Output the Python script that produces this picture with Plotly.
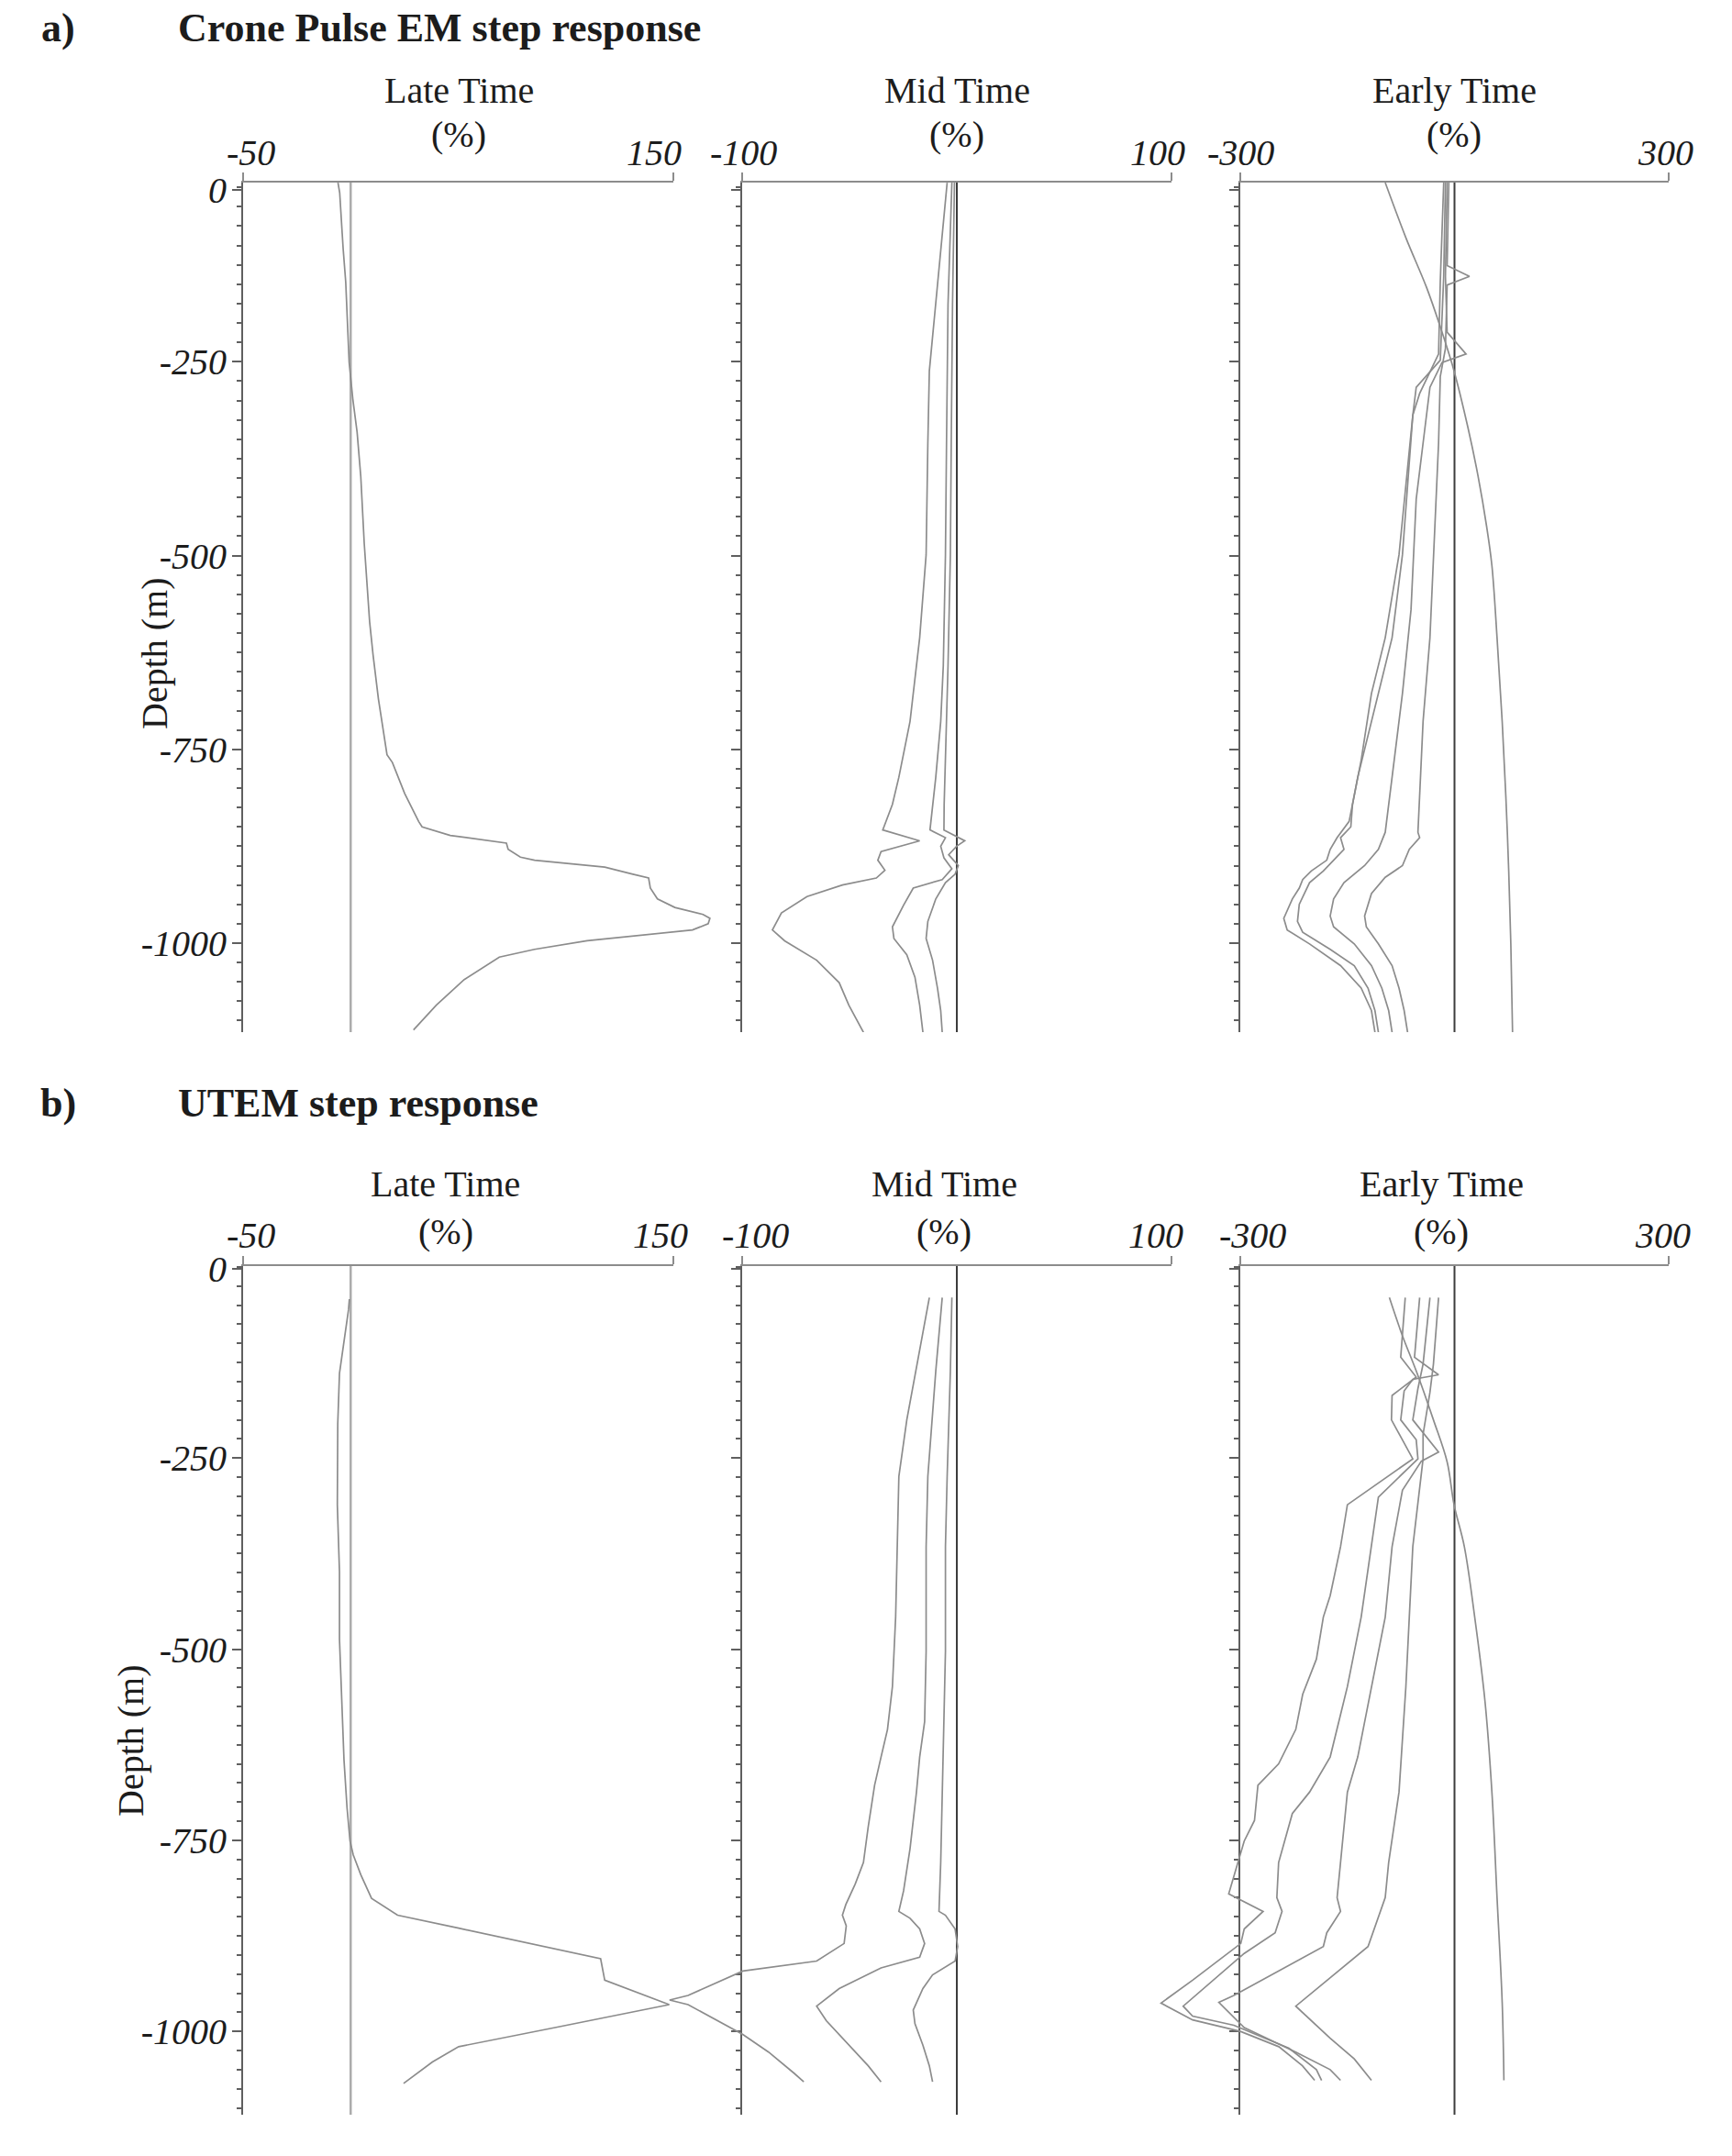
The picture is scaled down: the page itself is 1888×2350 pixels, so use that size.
import plotly.graph_objects as go

W, H = 1888, 2350

# ---------------- data: depth (m) / response (%) ----------------
# (a) Crone Pulse EM
LATE_A_DEPTH = [-19, -32, -104, -147, -212, -251, -298, -341, -398, -484, -585, -628, -685, -757, -767,
                -807, -843, -850, -861, -868, -871, -879, -889, -893, -902, -911, -916, -929, -943, -954,
                -963, -968, -975, -983, -990, -997, -1008, -1018, -1047, -1080, -1112]
LATE_A_VAL = [-5.9, -5.1, -3.5, -2.3, -1.3, -0.7, 1.0, 3.0, 4.7, 6.3, 8.8, 10.4, 12.9, 16.9, 19.4,
              25.1, 31.6, 33.2, 46.3, 65.9, 72.4, 73.2, 78.9, 85.5, 118.1, 131.2, 138.5, 139.3, 142.6, 150.7,
              163.8, 167.0, 166.2, 158.9, 134.4, 109.9, 85.5, 69.1, 52.8, 39.8, 29.2]

MID_A1_DEPTH = [-19, -176, -262, -355, -499, -606, -714, -786, -821, -854, -868, -882, -893, -906, -916,
                -925, -940, -961, -983, -997, -1022, -1051, -1080, -1115]
MID_A1_VAL = [-4.5, -9.8, -12.8, -13.5, -14.3, -17.3, -21.8, -27.0, -30.0, -34.5, -17.3, -35.3, -36.8, -33.5, -37.5,
              -53.3, -69.8, -81.7, -85.9, -80.2, -65.3, -54.8, -50.3, -43.5]
MID_A2_DEPTH = [-19, -176, -355, -499, -642, -714, -786, -821, -854, -864, -875, -890, -904, -918, -929,
                -951, -979, -994, -1015, -1044, -1080, -1115]
MID_A2_VAL = [-2.3, -4.1, -4.8, -5.3, -6.3, -7.5, -9.8, -11.3, -12.5, -5.3, -7.5, -6.0, -2.3, -6.8, -20.3,
              -24.8, -30.0, -29.3, -23.3, -19.5, -17.3, -15.8]
MID_A3_DEPTH = [-19, -176, -355, -499, -642, -750, -821, -854, -868, -875, -886, -900, -911, -922, -943,
                -972, -994, -1022, -1058, -1087, -1115]
MID_A3_VAL = [-1.1, -2.0, -2.6, -3.0, -4.1, -5.3, -5.9, -6.0, 3.7, -0.1, -3.8, 0.7, -0.8, -5.3, -9.8,
              -13.5, -14.3, -11.3, -9.0, -7.5, -6.8]

EARLY_A_S_DEPTH = [-19, -90, -154, -205, -262, -334, -398, -463, -513, -606, -714, -857, -1001, -1115]
EARLY_A_S_VAL = [-97.0, -68.1, -39.2, -19.9, -0.6, 18.6, 33.1, 45.1, 52.4, 59.6, 66.8, 74.0, 78.9, 81.3]
EARLY_A1_DEPTH = [-19, -147, -240, -291, -319, -499, -606, -678, -764, -807, -843, -864, -879, -893, -907,
                  -918, -929, -943, -968, -983, -1001, -1029, -1058, -1087, -1115]
EARLY_A1_VAL = [-15.1, -19.9, -22.3, -48.8, -58.4, -77.7, -97.0, -116.3, -130.7, -140.4, -147.6, -164.4, -174.1, -178.9, -200.6,
                -212.6, -217.4, -227.1, -239.1, -234.3, -203.0, -159.6, -130.7, -116.3, -111.4]
EARLY_A2_DEPTH = [-19, -140, -248, -283, -319, -499, -606, -678, -750, -786, -821, -850, -864, -879, -893,
                  -907, -922, -950, -972, -986, -1008, -1029, -1058, -1087, -1115]
EARLY_A2_VAL = [-12.7, -15.1, -19.9, -53.6, -58.4, -72.9, -87.4, -106.6, -125.9, -135.5, -142.8, -145.2, -159.6, -154.8, -169.3,
                -183.7, -203.0, -217.4, -219.9, -212.6, -174.1, -140.4, -121.1, -111.4, -106.6]
EARLY_A3_DEPTH = [-19, -140, -212, -240, -251, -283, -355, -427, -570, -678, -786, -857, -879, -890, -900,
                  -922, -943, -965, -979, -1001, -1029, -1058, -1087, -1115]
EARLY_A3_VAL = [-10.3, -12.7, -10.3, 16.2, -17.5, -34.4, -44.0, -53.6, -60.9, -72.9, -87.4, -97.0, -106.6, -116.3, -125.9,
                -154.8, -169.3, -174.1, -169.3, -140.4, -116.3, -101.8, -92.2, -87.4]
EARLY_A4_DEPTH = [-19, -126, -140, -151, -233, -269, -355, -499, -606, -714, -821, -857, -864, -879, -900,
                  -915, -936, -965, -979, -1001, -1029, -1058, -1087, -1115]
EARLY_A4_VAL = [-7.9, -10.3, 21.0, -10.3, -12.7, -19.9, -22.3, -29.5, -34.4, -44.0, -48.8, -51.2, -48.8, -63.3, -72.9,
                -97.0, -116.3, -125.9, -123.5, -106.6, -87.4, -77.7, -70.5, -65.7]

# (b) UTEM
LATE_B_DEPTH = [-42, -56, -139, -205, -311, -399, -487, -575, -645, -707, -751, -769, -795, -826, -848,
                -865, -905, -933, -965, -995, -1020, -1040, -1068]
LATE_B_VAL = [-0.6, -1.0, -5.2, -6.0, -6.2, -5.2, -5.2, -4.1, -3.1, -1.7, -0.3, 1.2, 4.7, 9.7, 21.8,
              50.2, 116.2, 118.1, 148.1, 95.0, 50.2, 38.0, 24.6]

MID_B1_DEPTH = [-40, -109, -200, -274, -366, -458, -549, -605, -641, -678, -733, -779, -807, -834, -848,
                -862, -885, -908, -921, -953, -959, -965, -1004, -1027, -1055, -1066]
MID_B1_VAL = [-12.8, -17.3, -23.3, -27.0, -27.8, -28.5, -30.0, -32.3, -35.3, -38.3, -41.3, -43.5, -47.3, -51.7, -53.3,
              -51.5, -52.5, -65.3, -99.7, -125.2, -133.8, -125.2, -99.7, -87.7, -75.7, -71.3]
MID_B2_DEPTH = [-40, -136, -274, -366, -503, -595, -641, -687, -761, -816, -843, -852, -866, -885, -903,
                -917, -944, -967, -986, -1018, -1045, -1066]
MID_B2_VAL = [-6.8, -9.8, -13.5, -14.3, -14.3, -15.0, -17.3, -18.8, -21.8, -24.8, -27.0, -21.8, -17.3, -15.0, -17.3,
              -35.3, -54.8, -65.3, -60.8, -50.3, -41.3, -35.3]
MID_B3_DEPTH = [-40, -136, -274, -366, -503, -595, -687, -779, -843, -848, -866, -889, -908, -926, -944,
                -972, -990, -1018, -1045, -1066]
MID_B3_VAL = [-2.3, -3.0, -4.5, -5.3, -5.3, -6.0, -6.8, -7.5, -8.3, -5.3, -0.8, 0.4, -0.8, -11.3, -15.8,
              -20.3, -19.5, -15.8, -12.8, -11.3]

EARLY_B_S_DEPTH = [-40, -90, -136, -200, -255, -311, -366, -458, -568, -687, -825, -962, -1064]
EARLY_B_S_VAL = [-91.2, -72.9, -53.6, -29.5, -10.3, -0.6, 13.8, 28.3, 42.7, 52.4, 59.6, 66.8, 69.2]
EARLY_B1_DEPTH = [-40, -118, -144, -159, -168, -200, -251, -311, -366, -430, -458, -513, -559, -605, -650,
                  -678, -724, -751, -774, -820, -843, -866, -885, -933, -963, -985, -1000, -1020, -1045, -1064]
EARLY_B1_VAL = [-69.0, -75.3, -53.6, -75.3, -87.4, -88.3, -58.4, -150.0, -159.6, -174.1, -183.7, -193.4, -212.6, -222.3, -246.3,
                -275.3, -280.1, -294.5, -301.8, -316.2, -268.0, -294.5, -299.3, -366.8, -411.0, -366.8, -300.0, -246.0, -213.0, -195.8]
EARLY_B2_DEPTH = [-40, -118, -141, -147, -162, -200, -226, -251, -301, -366, -458, -549, -641, -687, -715,
                  -779, -825, -843, -871, -898, -944, -967, -980, -992, -1022, -1050, -1064]
EARLY_B2_VAL = [-48.8, -56.0, -22.3, -58.4, -70.5, -75.3, -53.6, -51.2, -106.6, -116.3, -130.7, -150.0, -174.1, -203.0, -227.1,
                -246.3, -248.8, -241.5, -251.2, -294.5, -352.3, -380.0, -366.8, -309.0, -231.9, -193.4, -186.1]
EARLY_B3_DEPTH = [-40, -127, -159, -200, -242, -254, -292, -366, -458, -549, -641, -687, -779, -825, -843,
                  -871, -889, -953, -962, -995, -1027, -1050, -1064]
EARLY_B3_VAL = [-34.4, -44.0, -51.2, -58.4, -22.3, -46.4, -72.9, -87.4, -97.0, -116.3, -135.5, -150.0, -159.6, -164.4, -159.6,
                -178.9, -183.7, -309.0, -330.0, -294.5, -222.3, -174.1, -159.6]
EARLY_B4_DEPTH = [-40, -127, -164, -219, -251, -292, -366, -458, -549, -687, -779, -825, -889, -967, -1009,
                  -1036, -1064]
EARLY_B4_VAL = [-22.3, -29.5, -34.4, -44.0, -44.0, -48.8, -58.4, -63.3, -68.1, -77.7, -92.2, -97.0, -121.1, -222.3, -174.1,
                -140.4, -116.3]

PANEL_TITLES = {"a": "Crone Pulse EM step response", "b": "UTEM step response"}
COL_TITLES = ["Late Time", "Mid Time", "Early Time"]
X_RANGES = [(-50, 150), (-100, 100), (-300, 300)]
DEPTH_TICKS = [-250, -500, -750, -1000]

SERIES = {
    ("a", 0): [(LATE_A_DEPTH, LATE_A_VAL, "linear")],
    ("a", 1): [(MID_A1_DEPTH, MID_A1_VAL, "linear"), (MID_A2_DEPTH, MID_A2_VAL, "linear"),
               (MID_A3_DEPTH, MID_A3_VAL, "linear")],
    ("a", 2): [(EARLY_A_S_DEPTH, EARLY_A_S_VAL, "spline"), (EARLY_A1_DEPTH, EARLY_A1_VAL, "linear"),
               (EARLY_A2_DEPTH, EARLY_A2_VAL, "linear"), (EARLY_A3_DEPTH, EARLY_A3_VAL, "linear"),
               (EARLY_A4_DEPTH, EARLY_A4_VAL, "linear")],
    ("b", 0): [(LATE_B_DEPTH, LATE_B_VAL, "linear")],
    ("b", 1): [(MID_B1_DEPTH, MID_B1_VAL, "linear"), (MID_B2_DEPTH, MID_B2_VAL, "linear"),
               (MID_B3_DEPTH, MID_B3_VAL, "linear")],
    ("b", 2): [(EARLY_B_S_DEPTH, EARLY_B_S_VAL, "spline"), (EARLY_B1_DEPTH, EARLY_B1_VAL, "linear"),
               (EARLY_B2_DEPTH, EARLY_B2_VAL, "linear"), (EARLY_B3_DEPTH, EARLY_B3_VAL, "linear"),
               (EARLY_B4_DEPTH, EARLY_B4_VAL, "linear")],
}

# ---------------- layout geometry (pixels) ----------------
COL_PX = [(265, 734), (809, 1277), (1352, 1819)]
PANEL_GEOM = {
    "a": dict(top=199, bottom=1125, yrange=(-1114.8, -18.9), top_label_at=-28),
    "b": dict(top=1380, bottom=2305, yrange=(-1109.0, 1.2), top_label_at=-2),
}
SERIF = "Liberation Serif"
CURVE = "rgb(140,140,140)"
TXT = "#1c1c1c"

fig = go.Figure()
lay = {}
ann = []


def names(i):
    return ("xaxis" if i == 1 else f"xaxis{i}", "yaxis" if i == 1 else f"yaxis{i}",
            "x" if i == 1 else f"x{i}", "y" if i == 1 else f"y{i}")


def note(text, px, py, size=40, italic=False, xanchor="center", angle=0):
    ann.append(dict(text=text, x=px / W, y=1 - py / H, xref="paper", yref="paper", showarrow=False,
                    xanchor=xanchor, yanchor="middle", textangle=angle,
                    font=dict(family=SERIF, size=size, color=TXT, style="italic" if italic else "normal")))


idx = 0
for pk in ["a", "b"]:
    G = PANEL_GEOM[pk]
    ydom = [1 - G["bottom"] / H, 1 - G["top"] / H]
    for ci in range(3):
        idx += 1
        x0, x1 = COL_PX[ci]
        xr = X_RANGES[ci]
        fx, fy, fxr, fyr = names(idx)
        dx, dy, dxr, dyr = names(idx + 6)
        zl_color = "rgb(172,172,172)" if ci == 0 else "rgb(60,60,60)"
        zl_width = 2.5 if ci == 0 else 2
        lay[fx] = dict(domain=[x0 / W, x1 / W], range=list(xr), anchor=fyr, side="top",
                       showline=True, linecolor="rgb(140,140,140)", linewidth=1.5,
                       ticks="outside", tickmode="array", tickvals=list(xr), ticklen=9,
                       tickcolor="rgb(140,140,140)", tickwidth=1.5, showticklabels=False,
                       showgrid=False, zeroline=False, fixedrange=True, automargin=False)
        tv = [G["top_label_at"]] + DEPTH_TICKS
        lay[fy] = dict(domain=ydom, range=list(G["yrange"]), anchor=fxr,
                       showline=True, linecolor="rgb(95,95,95)", linewidth=2,
                       ticks="outside", tickmode="array", tickvals=tv,
                       ticktext=["0"] + [str(v) for v in DEPTH_TICKS],
                       ticklen=10, tickcolor="rgb(95,95,95)", tickwidth=2,
                       minor=dict(ticks="outside", ticklen=5, tick0=0, dtick=25,
                                  tickcolor="rgb(95,95,95)", tickwidth=1.5),
                       showticklabels=(ci == 0), ticklabelstandoff=-2,
                       tickfont=dict(family=SERIF, size=40, color=TXT, style="italic"),
                       showgrid=False, zeroline=False, fixedrange=True, automargin=False)
        # zero reference line drawn on the frame axes (also makes the frame subplot render)
        fig.add_trace(go.Scatter(x=[0, 0], y=list(G["yrange"]), mode="lines", xaxis=fxr, yaxis=fyr,
                                 line=dict(color=zl_color, width=zl_width),
                                 showlegend=False, hoverinfo="skip"))
        # data axes: same scale, wider domain so curves may overshoot the frame
        u = (xr[1] - xr[0]) / (x1 - x0)
        padL = 110
        padR = min(110, W - x1)
        lay[dx] = dict(domain=[(x0 - padL) / W, (x1 + padR) / W],
                       range=[xr[0] - padL * u, xr[1] + padR * u], anchor=dyr, visible=False,
                       fixedrange=True, automargin=False)
        lay[dy] = dict(domain=ydom, range=list(G["yrange"]), anchor=dxr, visible=False,
                       fixedrange=True, automargin=False)
        for depth, val, shape in SERIES[(pk, ci)]:
            fig.add_trace(go.Scatter(x=val, y=depth, mode="lines", xaxis=dxr, yaxis=dyr,
                                     line=dict(color=CURVE, width=1.7, shape=shape),
                                     showlegend=False, hoverinfo="skip"))

# ---------------- text ----------------
note("<b>a)</b>", 63, 30, size=44)
note("<b>" + PANEL_TITLES["a"] + "</b>", 192, 30, size=44, xanchor="left")
note("<b>b)</b>", 63, 1202, size=44)
note("<b>" + PANEL_TITLES["b"] + "</b>", 192, 1202, size=44, xanchor="left")

for cx, t in zip([500, 1043, 1585], COL_TITLES):
    note(t, cx, 98)
    note("(%)", cx, 147)
for cx, t in zip([486, 1029, 1571], COL_TITLES):
    note(t, cx, 1290)
    note("(%)", cx, 1342)

for (px, ci, k) in [(273, 0, 0), (713, 0, 1), (810, 1, 0), (1262, 1, 1), (1352, 2, 0), (1815, 2, 1)]:
    note(str(X_RANGES[ci][k]), px, 167, italic=True)
for (px, ci, k) in [(273, 0, 0), (720, 0, 1), (823, 1, 0), (1260, 1, 1), (1365, 2, 0), (1812, 2, 1)]:
    note(str(X_RANGES[ci][k]), px, 1346, italic=True)

note("Depth (m)", 168, 712, angle=-90)
note("Depth (m)", 142, 1897, angle=-90)

fig.update_layout(**lay)
fig.update_layout(width=W, height=H, margin=dict(l=0, r=0, t=0, b=0, autoexpand=False),
                  paper_bgcolor="white", plot_bgcolor="rgba(0,0,0,0)",
                  annotations=ann, showlegend=False)

fig.write_html("out.html", config={"displayModeBar": False})
